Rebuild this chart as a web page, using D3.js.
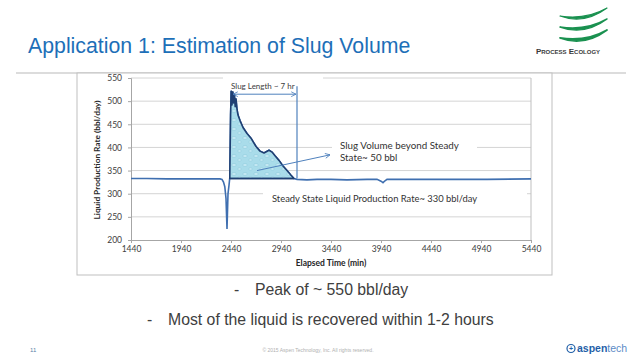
<!DOCTYPE html>
<html><head><meta charset="utf-8">
<script src="https://cdn.jsdelivr.net/npm/d3@7"></script>
<style>
body{margin:0;background:#fff;}
svg{display:block;}
</style></head>
<body>
<svg id="c" width="638" height="359"></svg>
<script>
// ---- data ----
const xTicks = [1440,1940,2440,2940,3440,3940,4440,4940,5440];
const yTicks = [200,250,300,350,400,450,500,550];
const times = [1440,1600,1800,2000,2200,2330,2350,2365,2378,2390,2400,2410,2420,2428,2436,2442,2450,2458,2466,2474,2482,2490,2500,2510,2530,2560,2600,2640,2690,2730,2770,2820,2850,2880,2920,2960,3000,3040,3070,3100,3200,3300,3440,3600,3800,3900,3940,3960,3980,4000,4200,4440,4700,5000,5440];
const rates = [333,333,332,332,332,332,331,325,315,290,224,300,318,335,470,522,492,520,496,514,488,505,482,470,458,443,430,420,402,392,388,394,390,382,372,360,350,340,333,331,330,331,331,330,331,331,327,324,328,331,331,331,331,331,332];
const slugStart = 2428, slugEnd = 3070, steadyRate = 333;
const slugMarker = 3100;

const svg = d3.select("#c");
const x = d3.scaleLinear().domain([1440,5440]).range([131,531]);
const y = d3.scaleLinear().domain([200,550]).range([240,78]);
const series = times.map((t,i)=>({t, v:rates[i]}));

// slide title
svg.append("text").attr("x",28).attr("y",53).attr("font-family","Liberation Sans, Arial").attr("font-size",21.3)
  .attr("fill","#1d6fb8").text("Application 1: Estimation of Slug Volume");
svg.append("line").attr("x1",16).attr("x2",626).attr("y1",73).attr("y2",73).attr("stroke","#d0d0d0").attr("stroke-width",1.5);

// logo swooshes
const lg = svg.append("g").attr("fill","#1a9150");
[[16,0],[27,1],[38,2]].forEach(([yy,i])=>{
  lg.append("path").attr("d",
    `M${560} ${yy} Q${584} ${yy+9} ${607} ${yy-8} Q${586} ${yy+4} ${560} ${yy} Z`)
    .attr("stroke","#1a9150").attr("stroke-width",1.2+i*0.3).attr("stroke-linejoin","round");
});
svg.append("text").attr("x",568).attr("y",54).attr("text-anchor","middle").attr("font-family","Liberation Sans, Arial")
  .attr("font-size",8).attr("font-weight","bold").attr("fill","#3a3a3a").style("font-variant","small-caps").text("Process Ecology");

// chart box
svg.append("rect").attr("x",77).attr("y",73).attr("width",475).attr("height",202).attr("fill","#fff").attr("stroke","#bfbfbf");

// gridlines
svg.append("g").selectAll("line").data(yTicks.filter(d=>d>200)).join("line")
  .attr("x1",131).attr("x2",531).attr("y1",d=>y(d)).attr("y2",d=>y(d)).attr("stroke","#d4d4d4");
svg.append("line").attr("x1",531).attr("x2",531).attr("y1",y(550)).attr("y2",y(200)).attr("stroke","#bfbfbf");

// axes
const xa = svg.append("g").attr("transform","translate(0,240)")
  .call(d3.axisBottom(x).tickValues(xTicks).tickSize(3).tickPadding(3).tickFormat(d3.format("d")));
const ya = svg.append("g").attr("transform","translate(131,0)")
  .call(d3.axisLeft(y).tickValues(yTicks).tickSize(3).tickPadding(6));
[xa,ya].forEach(a=>{
  a.select(".domain").attr("stroke","#a6a6a6");
  a.selectAll(".tick line").attr("stroke","#a6a6a6");
  a.selectAll("text").attr("font-family","Lato, Open Sans, sans-serif").attr("font-size",8.5).attr("fill","#404040");
});
svg.append("text").attr("x",331).attr("y",266).attr("text-anchor","middle").attr("font-family","Lato, sans-serif")
  .attr("font-weight","bold").attr("font-size",8.5).attr("fill","#262626").text("Elapsed Time (min)");
svg.append("text").attr("transform","translate(100,160) rotate(-90)").attr("text-anchor","middle").attr("font-family","Lato, sans-serif")
  .attr("font-weight","bold").attr("font-size",8.3).attr("fill","#262626").text("Liquid Production Rate (bbl/day)");

// annotation text boxes (mask gridlines)
svg.append("rect").attr("x",223).attr("y",75).attr("width",100).attr("height",9).attr("fill","#fff");
svg.append("rect").attr("x",332).attr("y",139).attr("width",145).attr("height",24).attr("fill","#fff");
svg.append("rect").attr("x",263).attr("y",188).attr("width",264).attr("height",19).attr("fill","#fff");

// slug fill pattern
const defs = svg.append("defs");
const pat = defs.append("pattern").attr("id","bub").attr("patternUnits","userSpaceOnUse").attr("width",11).attr("height",9);
pat.append("rect").attr("width",11).attr("height",9).attr("fill","#a9dcea");
pat.append("ellipse").attr("cx",3).attr("cy",3).attr("rx",2.2).attr("ry",1.6).attr("fill","#c4e8f2").attr("stroke","#8ccbdc").attr("stroke-width",0.5);
pat.append("ellipse").attr("cx",8.5).attr("cy",7).attr("rx",1.8).attr("ry",1.3).attr("fill","#c4e8f2").attr("stroke","#8ccbdc").attr("stroke-width",0.5);
const mk = defs.append("marker").attr("id","ah").attr("viewBox","0 0 10 10").attr("refX",9).attr("refY",5)
  .attr("markerWidth",6).attr("markerHeight",6).attr("orient","auto-start-reverse");
mk.append("path").attr("d","M1 1 L9 5 L1 9").attr("fill","none").attr("stroke","#4f81bd").attr("stroke-width",1.4);

// data line
svg.append("path").datum(series).attr("fill","none").attr("stroke","#3f6fb0").attr("stroke-width",1.6)
  .attr("d",d3.line().x(d=>x(d.t)).y(d=>y(d.v)));

// slug area
const slug = series.filter(d=>d.t>=slugStart && d.t<=slugEnd);
svg.append("path").datum(slug).attr("fill","url(#bub)").attr("stroke","#1f3f72").attr("stroke-width",1.6).attr("stroke-linejoin","round")
  .attr("d",d3.area().x(d=>x(d.t)).y0(y(steadyRate)).y1(d=>y(d.v))(slug)+"Z");
svg.append("line").attr("x1",x(slugStart)).attr("x2",x(slugEnd)).attr("y1",y(steadyRate)).attr("y2",y(steadyRate))
  .attr("stroke","#1f3f72").attr("stroke-width",1.6);

// slug length annotation
svg.append("line").attr("x1",x(slugMarker)).attr("x2",x(slugMarker)).attr("y1",y(532)).attr("y2",y(steadyRate))
  .attr("stroke","#4f81bd").attr("stroke-width",1.2);
svg.append("line").attr("x1",x(2460)).attr("x2",x(3090)).attr("y1",y(515)).attr("y2",y(515))
  .attr("stroke","#4f81bd").attr("stroke-width",1).attr("marker-start","url(#ah)").attr("marker-end","url(#ah)");
svg.append("text").attr("x",231).attr("y",89).attr("font-family","Lato, sans-serif").attr("font-size",8).attr("fill","#404040").text("Slug Length ~ 7 hr");

// slug volume annotation
svg.append("line").attr("x1",x(2700)).attr("x2",x(3430)).attr("y1",y(350)).attr("y2",y(384))
  .attr("stroke","#4f81bd").attr("stroke-width",1).attr("marker-end","url(#ah)");
const tv = svg.append("text").attr("font-family","Lato, sans-serif").attr("font-size",9.8).attr("fill","#333");
tv.append("tspan").attr("x",340).attr("y",149).text("Slug Volume beyond Steady");
tv.append("tspan").attr("x",340).attr("y",160.5).text("State~ 50 bbl");
svg.append("text").attr("x",272).attr("y",202).attr("font-family","Lato, sans-serif").attr("font-size",9.4).attr("fill","#333")
  .text("Steady State Liquid Production Rate~ 330 bbl/day");

// bullets
const bf = "Liberation Sans, Arial";
svg.append("text").attr("x",234).attr("y",295).attr("font-family",bf).attr("font-size",15.8).attr("fill","#404040").text("-");
svg.append("text").attr("x",255).attr("y",295).attr("font-family",bf).attr("font-size",15.8).attr("fill","#404040").text("Peak of ~ 550 bbl/day");
svg.append("text").attr("x",147).attr("y",325).attr("font-family",bf).attr("font-size",15.8).attr("fill","#404040").text("-");
svg.append("text").attr("x",168).attr("y",325).attr("font-family",bf).attr("font-size",15.8).attr("fill","#404040").text("Most of the liquid is recovered within 1-2 hours");

// footer
svg.append("text").attr("x",30).attr("y",352).attr("font-family",bf).attr("font-size",6).attr("fill","#5a7fa8").text("11");
svg.append("text").attr("x",318).attr("y",352).attr("text-anchor","middle").attr("font-family",bf).attr("font-size",5).attr("fill","#b0b0b0")
  .text("© 2015 Aspen Technology, Inc. All rights reserved.");
svg.append("circle").attr("cx",571).attr("cy",348.5).attr("r",4).attr("fill","none").attr("stroke","#1f5fa8").attr("stroke-width",1.2);
svg.append("text").attr("x",571).attr("y",351).attr("text-anchor","middle").attr("font-family",bf).attr("font-size",7).attr("font-weight","bold").attr("fill","#1f5fa8").text("+");
const at = svg.append("text").attr("x",577).attr("y",352).attr("font-family",bf).attr("font-size",10.5).attr("fill","#1f5fa8");
at.append("tspan").attr("font-weight","bold").text("aspen");
at.append("tspan").attr("fill","#5a8ac6").text("tech");
</script>
</body></html>
